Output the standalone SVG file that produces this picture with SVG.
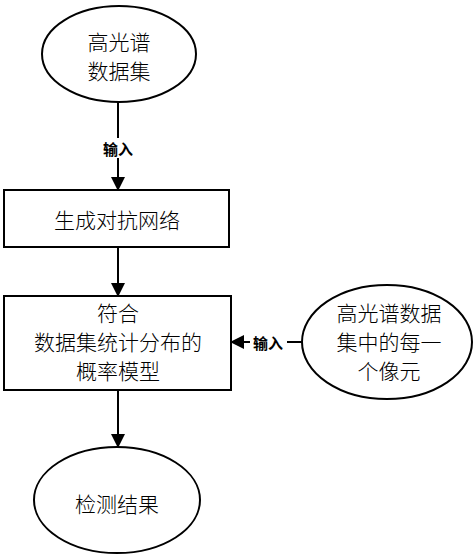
<svg xmlns="http://www.w3.org/2000/svg" width="474" height="559" viewBox="0 0 474 559">
<style>
.shape{fill:#fff;stroke:#000;stroke-width:2}
.t{font-family:"Noto Sans CJK SC","Liberation Sans",sans-serif;font-size:21px;font-weight:300;fill:#000;text-anchor:middle;dominant-baseline:central}
.lbl{font-family:"Noto Sans CJK SC","Liberation Sans",sans-serif;font-size:15px;font-weight:bold;fill:#000;text-anchor:middle;dominant-baseline:central}
.c{stroke:#000;stroke-width:2;fill:none}
</style>
<defs>
<marker id="ahb" markerWidth="14" markerHeight="14" refX="13" refY="7" orient="auto" markerUnits="userSpaceOnUse" viewBox="0 0 14 14">
<path d="M0,0 L14,7 L0,14 Z" fill="#000"/>
</marker>
</defs>
<g id="n1">
<ellipse class="shape" cx="119" cy="54" rx="77" ry="48"/>
<text class="t" x="119" y="41">高光谱</text>
<text class="t" x="119" y="70">数据集</text>
</g>
<g id="n2">
<rect class="shape" x="4" y="190" width="225" height="57"/>
<text class="t" x="117" y="219">生成对抗网络</text>
</g>
<g id="n3">
<rect class="shape" x="4" y="296" width="227" height="94"/>
<text class="t" x="118" y="312">符合</text>
<text class="t" x="118" y="341">数据集统计分布的</text>
<text class="t" x="118" y="370">概率模型</text>
</g>
<g id="n4">
<ellipse class="shape" cx="387" cy="342" rx="85" ry="57"/>
<text class="t" x="389" y="312">高光谱数据</text>
<text class="t" x="389" y="341">集中的每一</text>
<text class="t" x="389" y="370">个像元</text>
</g>
<g id="n5">
<ellipse class="shape" cx="117" cy="500" rx="83" ry="53"/>
<text class="t" x="117" y="503">检测结果</text>
</g>
<g id="connectors">
<line class="c" x1="118" y1="102" x2="118" y2="138"/>
<text class="lbl" x="118" y="148">输入</text>
<line class="c" x1="118" y1="158" x2="118" y2="190" marker-end="url(#ahb)"/>
<line class="c" x1="118" y1="247" x2="118" y2="296" marker-end="url(#ahb)"/>
<line class="c" x1="302" y1="342" x2="287" y2="342"/>
<text class="lbl" x="268" y="342">输入</text>
<line class="c" x1="250" y1="342" x2="231" y2="342" marker-end="url(#ahb)"/>
<line class="c" x1="118" y1="390" x2="118" y2="447" marker-end="url(#ahb)"/>
</g>
</svg>
